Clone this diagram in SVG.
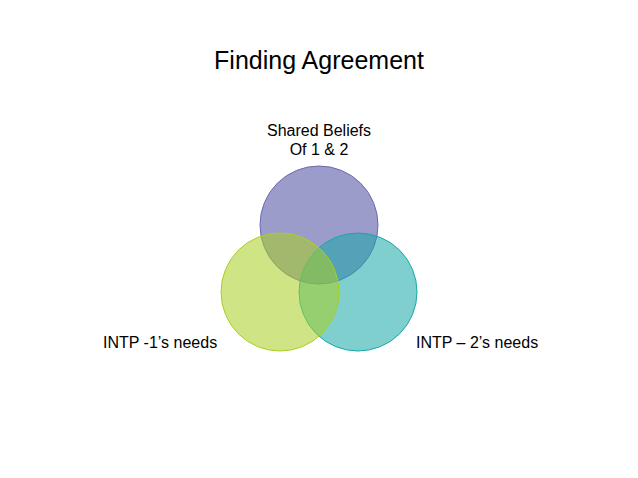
<svg xmlns="http://www.w3.org/2000/svg" width="638" height="478" viewBox="0 0 638 478">
<style>
text{font-family:"Liberation Sans",Arial,sans-serif;fill:#000}
.c{stroke-width:1;fill-opacity:0.55}
.l{font-size:16px}
</style>
<rect width="638" height="478" fill="#fff"/>
<text x="319" y="69" font-size="25" text-anchor="middle">Finding Agreement</text>
<g id="beliefs">
<circle class="c" cx="319" cy="225" r="59" fill="#4a4aa0" stroke="#6a6ab0"/>
<text class="l" x="319" y="136" text-anchor="middle">Shared Beliefs</text>
<text class="l" x="319" y="155" text-anchor="middle">Of 1 &amp; 2</text>
</g>
<g id="intp2">
<circle class="c" cx="358" cy="292" r="59" fill="#17a8a8" stroke="#17a8a8"/>
<text class="l" x="416" y="348">INTP – 2’s needs</text>
</g>
<g id="intp1">
<circle class="c" cx="280" cy="292" r="59" fill="#a8d020" stroke="#a8d020"/>
<text class="l" x="103" y="348">INTP -1’s needs</text>
</g>
<g id="connectors"/>
</svg>
